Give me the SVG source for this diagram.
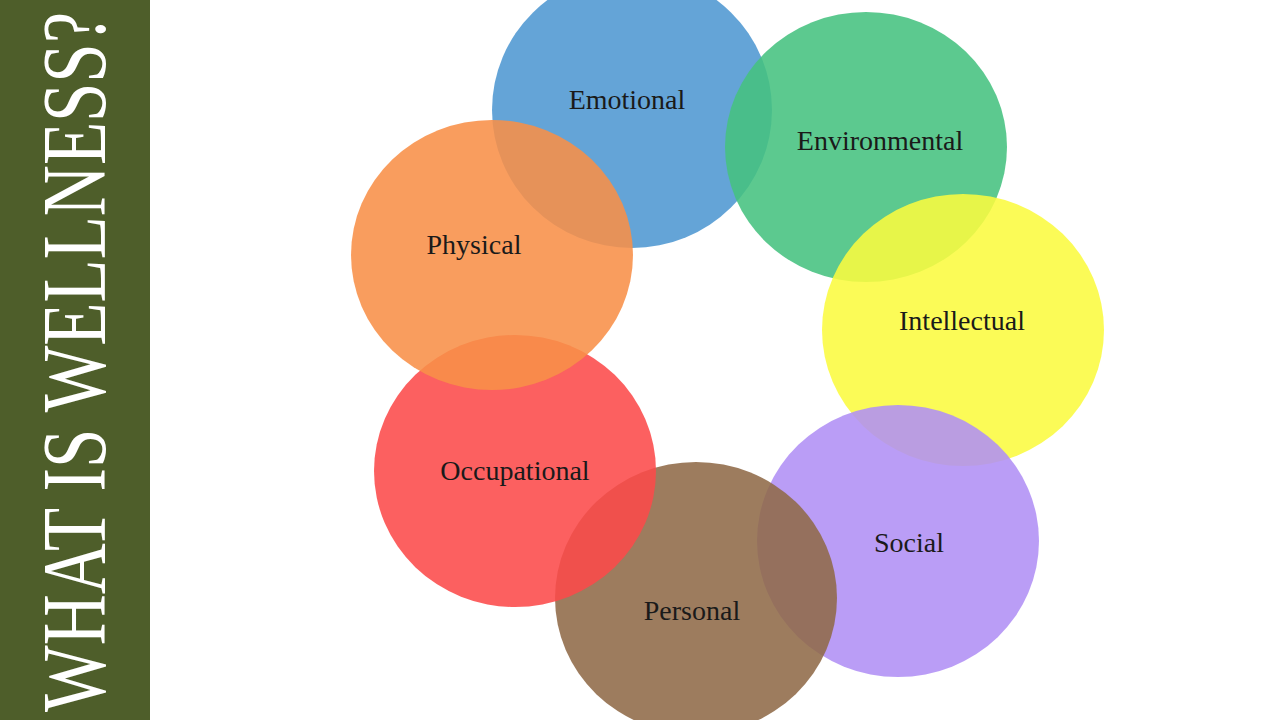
<svg xmlns="http://www.w3.org/2000/svg" width="1280" height="720" viewBox="0 0 1280 720">
<style>
.c{opacity:0.88}
.t{font-family:"Liberation Serif","DejaVu Serif",serif;font-size:28px;fill:#1a1a1a;text-anchor:middle}
</style>
<rect width="1280" height="720" fill="#fff"/>
<rect x="0" y="0" width="150" height="720" fill="#4e5e2a"/>
<text transform="translate(105,712) rotate(-90)" font-family="Liberation Serif,serif" font-size="90" fill="#fff" textLength="700" lengthAdjust="spacingAndGlyphs">WHAT IS WELLNESS?</text>
<g id="emotional"><ellipse class="c" cx="632" cy="110" rx="140" ry="138" fill="#4e97d2"/><text class="t" x="627" y="109">Emotional</text></g>
<g id="environmental"><ellipse class="c" cx="866" cy="147" rx="141" ry="135" fill="#45c27f"/><text class="t" x="880" y="150">Environmental</text></g>
<g id="intellectual"><ellipse class="c" cx="963" cy="330" rx="141" ry="136" fill="#fafa40"/><text class="t" x="962" y="330">Intellectual</text></g>
<g id="social"><ellipse class="c" cx="898" cy="541" rx="141" ry="136" fill="#b08ff5"/><text class="t" x="909" y="552">Social</text></g>
<g id="personal"><ellipse class="c" cx="696" cy="598" rx="141" ry="136" fill="#8f6a48"/><text class="t" x="692" y="620">Personal</text></g>
<g id="occupational"><ellipse class="c" cx="515" cy="471" rx="141" ry="136" fill="#fc4a4a"/><text class="t" x="515" y="480">Occupational</text></g>
<g id="physical"><ellipse class="c" cx="492" cy="255" rx="141" ry="135" fill="#f89048"/><text class="t" x="474" y="254">Physical</text></g>
<g id="connectors"/>
</svg>
